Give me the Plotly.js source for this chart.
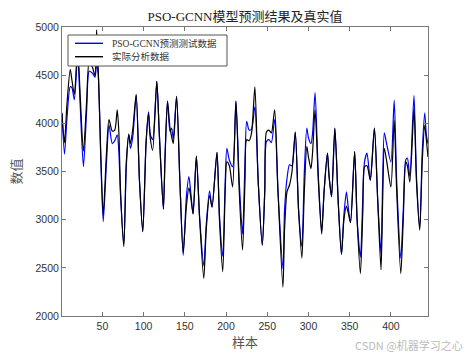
<!DOCTYPE html>
<html>
<head>
<meta charset="utf-8">
<script src="https://cdn.plot.ly/plotly-3.0.1.min.js"></script>
<style>html,body{margin:0;padding:0;background:#fff;}#chart{width:474px;height:355px;}</style>
</head>
<body>
<div id="chart"></div>
<script>
// sample index (x)
const samples = [1,4,7,11,13,16,20,23,27,31,34,38,41,43,45,48,51,55,58,62,65,68,70,72,76,79,82,84,87,91,95,99,103,106,108,111,116,119,124,126,129,132,134,136,140,144,148,152,155,157,160,164,168,173,176,180,183,189,192,196,199,201,204,208,212,216,220,223,225,228,231,235,239,244,247,249,252,255,259,263,269,271,274,277,280,284,288,292,295,298,300,303,305,308,312,316,319,323,325,328,332,336,340,343,346,348,351,356,359,363,366,368,371,375,380,384,388,390,392,395,400,404,407,412,415,418,420,423,428,431,435,438,441,443,445];
// 实际分析数据 (black)
const actual = [4100,3800,4200,4560,4450,4300,4780,4300,3710,4250,4640,4580,4500,4970,4550,3700,3050,3700,4040,3920,3930,4140,3900,3300,2720,3600,3880,3790,3950,4300,3400,2875,3800,4100,3850,3720,4435,3900,3110,3650,4230,3950,3860,3790,4280,3400,2660,3150,3330,3250,3060,3660,3000,2390,2900,3250,3130,3700,3000,2460,3300,3600,3560,3340,4230,3300,2685,3400,3830,3820,3900,4380,3400,2735,3300,3910,3930,3900,4140,3300,2300,2900,3290,3360,3500,3910,3100,2600,3300,3760,3650,3530,3700,4140,3400,2850,3300,3690,3450,3240,3950,3200,2640,3000,3140,3080,2970,3707,3000,2440,3100,3550,3560,3410,3950,3200,2480,3200,3740,3600,3340,4030,3300,2440,3000,3600,3560,3390,4150,3400,2890,3600,3980,3830,3650];
// PSO-GCNN预测测试数据 (blue)
const predicted = [4110,3680,4050,4380,4370,4245,4720,4200,3550,4150,4540,4520,4480,4610,4500,3650,2980,3600,3985,3790,3820,3880,3700,3250,2750,3550,3890,3740,3870,4290,3400,2875,3800,4120,3890,3830,4435,3900,3110,3650,4230,3920,3950,3840,4280,3400,2630,3250,3447,3300,3060,3660,3020,2520,2950,3300,3130,3700,3050,2620,3400,3740,3620,3550,4230,3400,2850,3600,4020,3930,3940,4170,3400,2735,3300,3810,3830,3800,4040,3300,2490,3100,3430,3570,3560,3910,3100,2720,3500,3950,3850,3790,3900,4320,3450,2880,3300,3690,3450,3240,3950,3200,2640,3050,3290,3150,2970,3707,3000,2610,3250,3600,3690,3410,3950,3200,2650,3400,3900,3780,3600,4240,3400,2600,3100,3620,3640,3450,4290,3450,2920,3700,4110,3880,3790];

const xTicks = [50,100,150,200,250,300,350,400];
const yTicks = [2000,2500,3000,3500,4000,4500,5000];
const seriesNames = ['PSO-GCNN预测测试数据', '实际分析数据'];
const seriesColors = ['#0000ff', '#000000'];

const serif = 'Liberation Serif, "Noto Sans CJK SC", serif';
const sans = 'Liberation Sans, Arial, sans-serif';
const cjk = '"Noto Sans CJK SC", sans-serif';

const traces = [
  {x: samples, y: predicted, type: 'scatter', mode: 'lines', name: seriesNames[0],
   line: {color: seriesColors[0], width: 1.2, shape: 'spline', smoothing: 0.7}},
  {x: samples, y: actual, type: 'scatter', mode: 'lines', name: seriesNames[1],
   line: {color: seriesColors[1], width: 1.2, shape: 'spline', smoothing: 0.7}}
];

const axisCommon = {
  showline: true, mirror: 'ticks', ticks: 'inside', ticklen: 4, tickwidth: 1,
  tickcolor: '#777', linecolor: '#777', linewidth: 1, showgrid: false, zeroline: false,
  tickfont: {family: sans, size: 10.5, color: '#333'}, automargin: false
};

// compact MATLAB-style legend box (paper coordinates of the plot area)
const legendRows = [0.9436, 0.8972];
const shapes = [{type: 'rect', xref: 'paper', yref: 'paper', x0: 0.0164, x1: 0.4508, y0: 0.865, y1: 0.9723,
                 line: {color: '#555', width: 1}, fillcolor: '#fff', layer: 'above'}];
const annotations = [];
legendRows.forEach((yy, i) => {
  shapes.push({type: 'line', xref: 'paper', yref: 'paper', x0: 0.0355, x1: 0.112, y0: yy, y1: yy,
               line: {color: seriesColors[i], width: 1.4}, layer: 'above'});
  annotations.push({text: seriesNames[i], xref: 'paper', yref: 'paper', x: 0.1311, y: yy,
                    xanchor: 'left', yanchor: 'middle', showarrow: false,
                    font: {family: serif, size: 9.5, color: '#333'}});
});
annotations.push({text: 'CSDN @机器学习之心', xref: 'paper', yref: 'paper', x: 1.101, y: -0.1,
                  xanchor: 'right', yanchor: 'middle', showarrow: false,
                  font: {family: cjk, size: 11, color: '#bbb'}});

const layout = {
  width: 474, height: 355,
  margin: {l: 62, r: 46, t: 27, b: 39, pad: 0},
  paper_bgcolor: '#fff', plot_bgcolor: '#fff',
  title: {text: 'PSO-GCNN模型预测结果及真实值', font: {family: serif, size: 13, color: '#222'},
          xref: 'paper', x: 0.5, xanchor: 'center', yref: 'container', y: 0.955, yanchor: 'middle'},
  xaxis: Object.assign({}, axisCommon, {
    range: [1, 445], tickmode: 'array', tickvals: xTicks,
    title: {text: '样本', font: {family: cjk, size: 13, color: '#555'}, standoff: 6}
  }),
  yaxis: Object.assign({}, axisCommon, {
    range: [2000, 5000], tickmode: 'array', tickvals: yTicks,
    title: {text: '数值', font: {family: cjk, size: 13, color: '#555'}, standoff: 10}
  }),
  showlegend: false,
  shapes: shapes,
  annotations: annotations
};

Plotly.newPlot('chart', traces, layout, {displayModeBar: false, staticPlot: true});
</script>
</body>
</html>
